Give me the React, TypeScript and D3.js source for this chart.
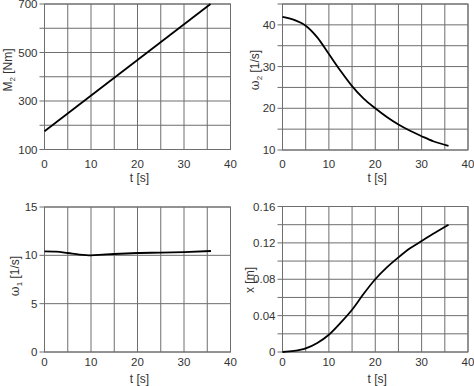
import React from "react";
import * as d3 from "d3";

// ---- data ----
const tM2 = [0, 35.7];
const valM2 = [175, 700];

const tW2 = [0, 2.5, 5, 7.5, 10, 12.5, 15, 17.5, 20, 22.5, 25, 27.5, 30, 32.5, 35.8];
const valW2 = [41.9, 41.2, 39.8, 37, 33, 29, 25.3, 22.3, 20, 17.9, 16.1, 14.6, 13.3, 12.1, 11];

const tW1 = [0, 2.5, 5, 7.5, 10, 12.5, 15, 20, 25, 30, 35.8];
const valW1 = [10.41, 10.38, 10.24, 10.08, 10.0, 10.07, 10.14, 10.24, 10.28, 10.34, 10.45];

const tX = [0, 2.5, 5, 7.5, 10, 12.5, 15, 17.5, 20, 22.5, 25, 27.5, 30, 32.5, 35.8];
const valX = [0, 0.0012, 0.004, 0.01, 0.019, 0.032, 0.0465, 0.064, 0.08, 0.093, 0.104, 0.114, 0.122, 0.13, 0.14];

const xTickLabels = [0, 10, 20, 30, 40];
const xGrid = [0, 5, 10, 15, 20, 25, 30, 35, 40];

const GRID = "#6e6e6e";
const TEXT = "#333";
const FONT = "Liberation Sans, Arial, sans-serif";

type PanelProps = {
  box: { x0: number; x1: number; y0: number; y1: number };
  yDomain: [number, number];
  yGrid: number[];
  yLabels: number[];
  yFmt: (v: number) => string;
  t: number[];
  v: number[];
  title: React.ReactNode;
  titlePos: [number, number];
  xLabelBase: number;
  xTitleBase: number;
};

function Panel(p: PanelProps) {
  const { box } = p;
  const x = d3.scaleLinear().domain([0, 40]).range([box.x0, box.x1]);
  const y = d3.scaleLinear().domain(p.yDomain).range([box.y1, box.y0]);
  const pts = p.t.map((t, i) => [t, p.v[i]] as [number, number]);
  const line = d3
    .line<[number, number]>()
    .x((d) => x(d[0]))
    .y((d) => y(d[1]))
    .curve(d3.curveMonotoneX);
  return (
    <g>
      {xGrid.map((g) => (
        <line key={"vx" + g} x1={x(g)} x2={x(g)} y1={box.y0} y2={box.y1} stroke={GRID} strokeWidth={1} />
      ))}
      {p.yGrid.map((g) => (
        <line key={"hy" + g} x1={box.x0 - 5} x2={box.x1} y1={y(g)} y2={y(g)} stroke={GRID} strokeWidth={1} />
      ))}
      <rect x={box.x0} y={box.y0} width={box.x1 - box.x0} height={box.y1 - box.y0} fill="none" stroke={GRID} strokeWidth={1} />
      <path d={line(pts) || ""} fill="none" stroke="#000" strokeWidth={1.8} strokeLinejoin="round" />
      {p.yLabels.map((g) => (
        <text key={"yl" + g} x={box.x0 - 7} y={y(g)} dy="0.36em" textAnchor="end" fontSize={11.5} fill={TEXT} fontFamily={FONT}>
          {p.yFmt(g)}
        </text>
      ))}
      {xTickLabels.map((g) => (
        <text key={"xl" + g} x={x(g)} y={p.xLabelBase} textAnchor="middle" fontSize={11.5} fill={TEXT} fontFamily={FONT}>
          {g}
        </text>
      ))}
      <text x={(box.x0 + box.x1) / 2 + 2} y={p.xTitleBase} textAnchor="middle" fontSize={12} fill={TEXT} fontFamily={FONT}>
        t [s]
      </text>
      <text
        transform={`translate(${p.titlePos[0]},${p.titlePos[1]}) rotate(-90)`}
        textAnchor="middle"
        dy="0.35em"
        fontSize={12}
        fill={TEXT}
        fontFamily={FONT}
      >
        {p.title}
      </text>
    </g>
  );
}

export default function App() {
  const fmt0 = (v: number) => String(v);
  const fmtX = (v: number) => (v === 0 ? "0" : v.toFixed(2));
  return (
    <div style={{ position: "absolute", left: 0, top: 0 }}>
      <svg width={474} height={386} style={{ display: "block", background: "#fff" }}>
        <Panel
          box={{ x0: 44.5, x1: 230.5, y0: 4, y1: 149.5 }}
          yDomain={[100, 700]}
          yGrid={[100, 200, 300, 400, 500, 600, 700]}
          yLabels={[100, 300, 500, 700]}
          yFmt={fmt0}
          t={tM2}
          v={valM2}
          title={
            <>
              M<tspan fontSize={8} dy="3">2</tspan>
              <tspan dy="-3"> [Nm]</tspan>
            </>
          }
          titlePos={[8, 70]}
          xLabelBase={167.5}
          xTitleBase={182}
        />
        <Panel
          box={{ x0: 282.5, x1: 468, y0: 4, y1: 150 }}
          yDomain={[10, 45]}
          yGrid={[10, 15, 20, 25, 30, 35, 40, 45]}
          yLabels={[10, 20, 30, 40]}
          yFmt={fmt0}
          t={tW2}
          v={valW2}
          title={
            <>
              <tspan fontFamily="DejaVu Serif, serif">ω</tspan>
              <tspan fontSize={8} dy="3">2</tspan>
              <tspan dy="-3"> [1/s]</tspan>
            </>
          }
          titlePos={[255, 70]}
          xLabelBase={167.5}
          xTitleBase={182}
        />
        <Panel
          box={{ x0: 44.5, x1: 230.5, y0: 207, y1: 352 }}
          yDomain={[0, 15]}
          yGrid={[0, 5, 10, 15]}
          yLabels={[0, 5, 10, 15]}
          yFmt={fmt0}
          t={tW1}
          v={valW1}
          title={
            <>
              <tspan fontFamily="DejaVu Serif, serif">ω</tspan>
              <tspan fontSize={8} dy="3">1</tspan>
              <tspan dy="-3"> [1/s]</tspan>
            </>
          }
          titlePos={[15, 276]}
          xLabelBase={365.5}
          xTitleBase={383}
        />
        <Panel
          box={{ x0: 282.5, x1: 468, y0: 206.5, y1: 352 }}
          yDomain={[0, 0.16]}
          yGrid={[0, 0.02, 0.04, 0.06, 0.08, 0.1, 0.12, 0.14, 0.16]}
          yLabels={[0, 0.04, 0.08, 0.12, 0.16]}
          yFmt={fmtX}
          t={tX}
          v={valX}
          title={<>x [m]</>}
          titlePos={[249.5, 280]}
          xLabelBase={365.5}
          xTitleBase={383}
        />
      </svg>
    </div>
  );
}
